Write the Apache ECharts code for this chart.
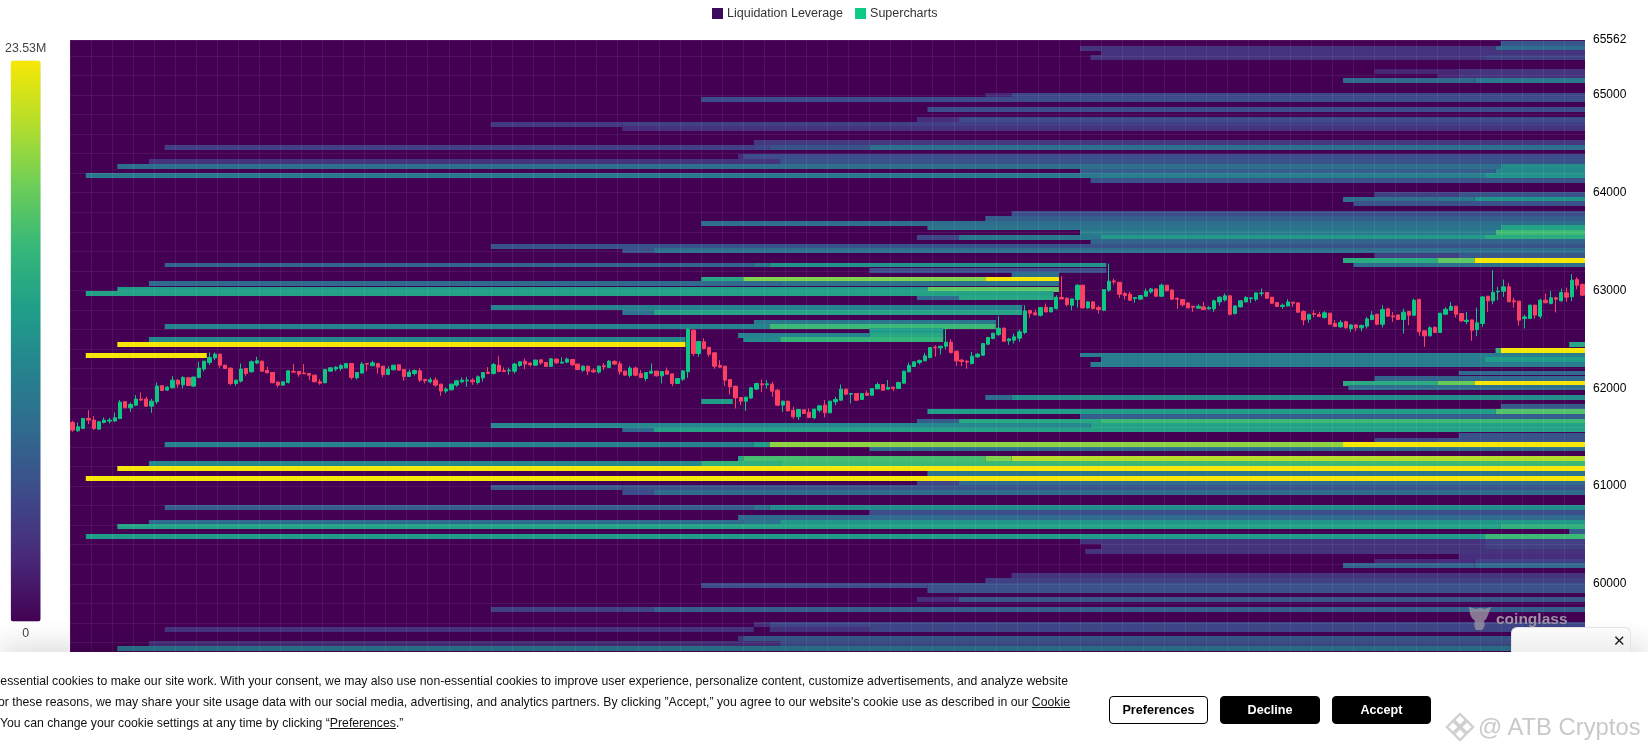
<!DOCTYPE html>
<html><head><meta charset="utf-8">
<script src="https://cdn.jsdelivr.net/npm/echarts@6/dist/echarts.min.js"></script>
<style>
html,body{margin:0;padding:0;width:1648px;height:751px;overflow:hidden;background:#fff;font-family:"Liberation Sans",Arial,sans-serif}
#c{position:absolute;left:0;top:0;width:1648px;height:751px}
.ov{position:absolute}
#banner{left:0;right:0;top:652px;bottom:0;background:#fff;box-shadow:0 -8px 26px rgba(0,0,0,.13)}
.ln{position:absolute;white-space:nowrap;font-size:12.25px;color:#111;line-height:20px}
.ln u{text-underline-offset:1px}
.btn{position:absolute;top:696px;height:28px;box-sizing:border-box;border-radius:4px;font-size:12.6px;font-weight:700;text-align:center;line-height:26px;border:1px solid #000}
</style></head><body>
<div id="c"></div>
<div class="ov" style="left:1468px;top:605px;width:24px;height:26px">
<svg width="24" height="26" viewBox="0 0 24 26"><path d="M1 2 L8 4 Q12 2 16 4 L23 2 L20 10 Q19 14 16 16 Q18 22 14 25 L8 25 Q5 20 7 16 Q3 13 2 9 Z" fill="#9a93a3" opacity=".8"/></svg></div>
<div class="ov" style="left:1496px;top:608px;font-size:15.5px;font-weight:700;color:#9a93a3;line-height:22px">coinglass</div>
<div class="ov" id="banner"></div>
<div class="ov" style="left:1511px;top:627px;width:120px;height:30px;background:linear-gradient(#fbfbfb,#ececec);border:1px solid #e4e4e4;border-bottom:0;border-radius:6px 6px 0 0;box-sizing:border-box"></div>
<div class="ov" style="left:1613px;top:633px;font-size:15px;line-height:15px;color:#222">✕</div>
<div class="ov" style="left:0;top:652px;width:1648px;height:99px;background:#fff"></div>
<div class="ln" style="right:580px;top:671px">We use essential cookies to make our site work. With your consent, we may also use non-essential cookies to improve user experience, personalize content, customize advertisements, and analyze website</div>
<div class="ln" style="right:578px;top:692px">For these reasons, we may share your site usage data with our social media, advertising, and analytics partners. By clicking ”Accept,” you agree to our website's cookie use as described in our <u>Cookie</u></div>
<div class="ln" style="left:0;top:713px">You can change your cookie settings at any time by clicking “<u>Preferences</u>.”</div>
<div class="btn" style="left:1109px;width:99px;background:#fff;color:#000">Preferences</div>
<div class="btn" style="left:1220px;width:100px;background:#000;color:#fff">Decline</div>
<div class="btn" style="left:1332px;width:99px;background:#000;color:#fff">Accept</div>
<div class="ov" style="left:1445px;top:712px;width:30px;height:30px">
<svg width="30" height="30" viewBox="0 0 30 30" fill="none" stroke="#d0d0d0" stroke-width="2.4"><path d="M15 2 L21 8 L15 14 L9 8 Z M15 16 L21 22 L15 28 L9 22 Z M2 15 L8 9 L14 15 L8 21 Z M16 15 L22 9 L28 15 L22 21 Z"/></svg></div>
<div class="ov" style="left:1478px;top:712px;font-size:23.8px;color:#c9c9c9;line-height:30px;white-space:nowrap">@ ATB Cryptos</div>
<script>
const TOTAL_SLOTS = 288;
const slotLabels = Array.from({length: TOTAL_SLOTS}, (_, i) => String(i));
const priceLabels = [60000, 61000, 62000, 63000, 64000, 65000, 65562];
const legendNames = ['Liquidation Leverage', 'Supercharts'];
const vmText = ['23.53M', '0'];
const maxLiq = 23.53, topPrice = 65562, bottomPrice = 59200, bucket = 49.8;
const viridis = ['#440154','#482878','#3e4989','#31688e','#26828e','#1f9e89','#35b779','#6ece58','#b5de2b','#f7e806'];

// liquidation bands: [price bucket counted down from the top, first slot, end slot, value in millions]
const bandsUpper = [
[0.7,272,288,6.5],[1.7,192,271,3.5],[1.7,271,288,8],[2.6,196,288,3.5],[3.6,194,269,3.5],[3.6,269,288,4.5],
[6.5,248,264,2.5],[6.5,264,288,3.5],[7.4,260,264,2.5],[7.4,264,288,3.5],[8.4,242,267,8],[8.4,267,288,9.5],
[11.3,174,179,2.5],[11.3,179,288,5],[12.3,120,288,5.5],[14.2,163,288,5.5],[16.3,161,169,3],[16.3,169,288,5.5],
[17.3,80,105,4],[17.3,105,288,4.5],[18.2,105,111,3],[18.2,111,288,3.5],[21.1,130,288,4],
[22,18,130,4.5],[22,130,133,5],[22,133,152,6],[22,152,288,8.5],[24,127,128,3],[24,128,288,5.5],
[24.9,15,135,3.5],[24.9,135,288,6],[25.9,9,272,8.5],[25.9,272,288,11.5],[26.9,192,271,7],[26.9,271,288,11],
[27.9,3,196,9.5],[27.9,196,269,10],[27.9,269,288,12],[28.8,194,288,6],
[31.8,248,264,4.5],[31.8,264,288,6],[32.7,242,260,8.5],[32.7,260,267,9.5],[32.7,267,288,12],[33.6,244,288,6],
[35.6,179,288,5.5],[36.6,174,288,7],[37.6,120,288,8.5],[38.5,163,272,9],[38.5,272,288,13.5],
[39.5,192,271,10],[39.5,271,288,16],[40.5,161,169,5],[40.5,169,196,9.5],[40.5,196,269,12.5],[40.5,269,288,14.5],
[41.4,194,288,7.5],[42.4,80,288,6],[43.3,105,111,6],[43.3,111,288,8.5]
];
const bandsMiddle = [
[44.2,248,264,4.5],[44.2,264,288,6.5],[45.2,242,260,14.5],[45.2,260,267,17.5],[45.2,267,288,23.5],
[46.2,18,130,7.5],[46.2,130,133,9.5],[46.2,133,197,12],[46.2,244,288,8.5],[47.3,152,197,5.5],[48.2,179,188,8.5],
[49.2,120,128,14],[49.2,128,174,19],[49.2,174,188,23.5],[50.1,15,135,8],[50.1,135,188,9],
[51.2,9,163,13],[51.2,163,188,17.5],[52.1,3,187,13.5],[53,161,169,8],[53,169,187,14],
[55,80,181,10.5],[56,105,111,9],[56,111,181,13.5],[58,130,176,9.5],[58.8,18,133,10.5],[58.8,133,176,16],
[59.7,152,166,13],[60.7,127,152,10.5],[60.7,152,166,14],[61.6,15,117,11],[61.6,128,135,11],[61.6,135,166,15.5],[62.6,285,288,14],
[62.6,9,117,23.5],[63.7,271,272,15],[63.7,272,288,23.5],[64.8,3,26,23.5],[64.7,192,288,10],[65.6,196,269,10],[65.6,269,288,13],[66.6,194,288,10],
[68.4,264,288,8],[69.5,248,264,7.5],[69.5,264,288,8],[70.5,242,260,14.5],[70.5,260,267,18],[70.5,267,288,23.5],[71.4,243,288,8.5],
[73.4,174,179,8],[73.4,179,288,11.5],[74.3,120,126,13],[75.3,272,288,6.5],[76.3,163,271,13],[76.3,271,288,17],[77.4,192,288,7],
[78.3,161,169,7],[78.3,169,196,14],[78.3,196,288,16],[79.2,80,194,11],[79.2,194,288,13.5],[80.1,105,111,8],[80.1,111,288,13.5]
];
const bandsLower = [
[81.2,264,288,6],[82.2,248,260,5],[82.2,260,288,6],[83.1,18,130,10.5],[83.1,130,133,13],[83.1,133,242,19.5],[83.1,242,288,23.5],
[84,152,288,8.5],[86,127,128,14],[86,128,174,16.5],[86,174,179,19],[86,179,288,21],
[87,15,120,11],[87,120,135,15],[87,135,288,16],[88,9,288,23.5],[89,163,288,9],[90,3,288,23.5],
[91,161,169,5],[91,169,288,8],[92,80,105,6.5],[92,105,288,6],[93,105,111,5.5],[93,111,288,8],
[96,18,130,7],[96,130,133,9],[96,133,288,11.5],[97,152,288,5.5],[98,127,288,8],
[99,15,128,8],[99,128,135,9],[99,135,288,12.5],[100,9,272,13.5],[100,272,288,15],[101,285,288,7],
[102,3,269,13],[102,269,288,16],[103,192,269,3.5],[103,269,288,4.5],[104,196,269,3.5],[104,269,288,4.5],[105,193,288,3.5],
[106,264,288,3],[107,248,260,2.5],[107,260,267,3],[107,267,288,4.5],[108,242,267,7.5],[108,267,288,8],
[110,179,288,3.5],[111,174,288,4.5],[112,120,163,5.5],[112,163,288,6],[113,163,288,6],
[115,161,169,3],[115,169,288,6.5],[117,80,105,4.5],[117,105,111,5],[117,111,288,7],
[120,130,133,3],[120,133,288,5],[121,18,130,3.5],[121,133,152,3.5],[121,152,288,5],
[123,127,128,4],[123,128,288,6.5],[124,15,135,3],[124,135,288,5.5],[125,9,288,9]
];

// candles: [open, close, low, high]
const candlesA = [
[61650,61572,61555,61667],[61565,61606,61555,61650],[61589,61691,61585,61695],[61691,61674,61633,61776],[61674,61589,61572,61715],[61582,61657,61575,61660],[61650,61674,61640,61701],[61664,61674,61640,61698],[61664,61698,61657,61752],[61691,61858,61684,61879],
[61862,61800,61795,61865],[61800,61834,61759,61855],[61827,61889,61817,61930],[61889,61879,61868,61957],[61889,61817,61810,61913],[61817,61868,61749,61892],[61862,62022,61838,62059],[62025,61977,61974,62032],[61981,62011,61974,62022],[62005,62083,61998,62124],
[62083,62042,62005,62090],[62035,62110,61998,62124],[62107,62029,62025,62110],[62022,62114,62011,62120],[62110,62206,62103,62271],[62196,62277,62172,62280],[62264,62315,62236,62366],[62311,62349,62288,62366],[62349,62236,62209,62355],[62236,62202,62198,62240],
[62206,62049,62032,62210],[62049,62083,62025,62087],[62073,62196,62059,62253],[62202,62151,62127,62209],[62168,62271,62161,62284],[62257,62281,62247,62322],[62277,62175,62168,62282],[62182,62158,62151,62219],[62161,62056,62052,62165],[62063,62032,62008,62069],
[62032,62066,62025,62073],[62059,62178,62049,62185],[62172,62165,62161,62247],[62172,62144,62117,62176],[62155,62148,62145,62247],[62151,62134,62083,62155],[62134,62066,62062,62138],[62066,62052,62035,62093],[62056,62192,62052,62199],[62175,62209,62168,62216],
[62196,62216,62175,62226],[62202,62233,62178,62247],[62209,62253,62205,62258],[62253,62110,62090,62258],[62107,62161,62090,62165],[62155,62247,62150,62267],[62253,62247,62175,62256],[62230,62260,62226,62281],[62253,62216,62151,62256],[62226,62141,62114,62230],
[62141,62196,62134,62226],[62189,62236,62185,62240],[62240,62185,62180,62244],[62192,62121,62076,62196],[62121,62165,62114,62192],[62151,62182,62131,62192],[62178,62083,62066,62206],[62090,62076,62049,62094],[62066,62086,62049,62110],[62083,62032,62015,62110],
[62042,61971,61923,62046],[61971,61991,61947,62008],[61984,62042,61980,62046]
];
const candlesB = [
[62032,62076,62015,62083],[62066,62083,62052,62110],[62076,62083,62015,62117],[62083,62066,62035,62103],[62059,62117,62039,62131],[62107,62161,62069,62165],[62165,62151,62144,62216],[62151,62243,62141,62260],[62236,62172,62165,62328],[62182,62172,62165,62212],
[62178,62185,62138,62212],[62175,62247,62151,62260],[62233,62270,62219,62277],[62277,62247,62195,62304],[62257,62240,62223,62267],[62236,62288,62232,62292],[62291,62260,62240,62295],[62264,62223,62219,62268],[62223,62301,62219,62308],[62298,62260,62247,62302],
[62257,62267,62253,62315],[62267,62298,62260,62315],[62294,62240,62226,62298],[62247,62192,62185,62251],[62185,62226,62168,62233],[62226,62175,62134,62230],[62185,62168,62155,62206],[62165,62226,62151,62233],[62230,62219,62185,62257],[62213,62277,62206,62288],
[62274,62247,62240,62288],[62250,62168,62138,62277],[62175,62134,62131,62182],[62131,62206,62110,62226],[62206,62134,62124,62223],
[62150,62110,62103,62185],[62100,62161,62072,62165],[62154,62175,62147,62253],[62175,62127,62120,62180],[62127,62171,62049,62175],[62178,62144,62140,62212],[62147,62049,62021,62151],[62049,62100,62045,62104],[62093,62178,62076,62185],[62168,62601,62106,62614],
[62594,62355,62328,62601],[62355,62478,62321,62485],[62475,62406,62400,62512],[62417,62348,62321,62427],[62362,62226,62199,62366],[62233,62216,62212,62287],[62226,62083,62025,62230],[62089,62014,61936,62093],[62021,61902,61793,62025],[61905,61868,61827,61909],
[61868,61909,61769,61912],[61899,62004,61895,62014],[61991,62049,61984,62055],[62045,62035,61963,62089],[62035,62045,61997,62083],[62042,61970,61912,62066],[61980,61827,61817,61991],[61827,61868,61759,61872],[61868,61769,61765,61872],[61776,61708,61687,61810],
[61708,61783,61674,61787],[61779,61742,61738,61783],[61755,61701,61697,61793],[61698,61786,61684,61790],[61776,61820,61752,61827],[61827,61749,61701,61878],[61749,61868,61745,61872],[61861,61885,61827,61912],[61878,61991,61874,62038],[61991,61940,61929,61997]
];
const candlesC = [
[61939,61946,61844,61950],[61946,61878,61874,61950],[61885,61946,61881,61950],[61950,61929,61925,61974],[61929,61997,61925,62001],[61994,62038,61990,62059],[62038,61980,61976,62042],[61991,62008,61987,62083],[62011,61997,61970,62015],[61997,62059,61993,62066],
[62052,62175,62049,62179],[62168,62233,62164,62263],[62222,62270,62218,62274],[62263,62284,62243,62294],[62280,62331,62276,62362],[62314,62417,62304,62421],[62420,62413,62321,62440],[62413,62430,62345,62434],[62430,62471,62400,62611],[62471,62365,62355,62502],
[62379,62280,62229,62383],[62287,62273,62226,62301],[62277,62267,62199,62287],[62253,62328,62246,62372],[62321,62348,62311,62359],[62338,62458,62331,62462],[62451,62519,62440,62526],[62509,62563,62502,62567],[62549,62614,62536,62737],[62614,62481,62477,62621],
[62485,62505,62444,62515],[62492,62526,62458,62560],[62512,62577,62475,62601],[62570,62791,62553,62849],[62795,62768,62720,62799],[62771,62751,62744,62805],
[62747,62825,62733,62830],[62829,62781,62777,62866],[62781,62825,62777,62832],[62815,62931,62805,62951],[62928,62914,62907,63146],[62921,62856,62836,62931],[62849,62914,62798,62918],[62907,63054,62825,63064],[63054,62822,62818,63058],[62822,62883,62812,62893],
[62883,62815,62805,62893],[62825,62805,62764,62846],[62798,63009,62788,63013],[63003,63095,62986,63275],[63098,63088,63060,63122],[63084,62962,62924,63088],[62969,62948,62907,62986],[62962,62900,62896,62986],[62917,62928,62876,62932],[62911,62948,62907,62952],
[62941,62992,62937,63020],[62986,63016,62969,63026],[63016,62941,62937,63020],[62941,63054,62937,63071],[63054,62996,62992,63058],[63006,62911,62907,63010],[62921,62911,62812,62925],[62907,62853,62836,62911],[62873,62822,62818,62877],[62839,62829,62781,62843]
];
const candlesD = [
[62819,62839,62812,62859],[62832,62805,62801,62883],[62812,62825,62805,62839],[62812,62894,62781,62907],[62883,62931,62846,62941],[62904,62945,62887,62969],[62945,62757,62744,62950],[62764,62842,62754,62846],[62832,62894,62828,62898],[62883,62928,62879,62941],
[62917,62924,62873,62928],[62911,62975,62890,62980],[62969,62975,62941,63020],[62979,62921,62914,62984],[62931,62870,62863,62935],[62876,62836,62832,62880],[62836,62849,62812,62866],[62842,62883,62836,62911],[62880,62870,62832,62884],[62873,62778,62774,62877],
[62785,62699,62645,62798],[62706,62754,62669,62764],[62764,62757,62727,62795],[62754,62733,62730,62781],[62723,62771,62713,62788],[62768,62655,62651,62772],[62662,62631,62627,62696],[62628,62672,62618,62696],[62679,62618,62611,62692],[62611,62648,62577,62655],
[62648,62618,62583,62651],[62618,62641,62583,62651],[62635,62709,62611,62730],[62703,62747,62696,62788],[62757,62655,62645,62761],[62655,62805,62621,62849],[62812,62737,62733,62819],[62740,62730,62679,62781],[62750,62703,62699,62754],[62703,62778,62560,62815],
[62785,62747,62645,62791],[62747,62900,62743,62917],[62907,62577,62536,62917],[62587,62536,62423,62591],[62536,62618,62532,62635],[62621,62570,62566,62635],[62570,62767,62566,62771],[62757,62808,62753,62829],[62798,62836,62791,62883],[62839,62757,62723,62843],
[62764,62689,62685,62768],[62682,62696,62655,62781],[62699,62594,62485,62703],[62600,62669,62532,62825],[62662,62934,62628,62941],[62941,62894,62781,62945],[62894,62982,62859,63207],[62986,62992,62900,63037],
[62993,63037,62935,63112],[63037,62884,62880,63078],[62894,62884,62823,62925],[62891,62696,62639,62895],[62713,62730,62611,62754],[62713,62850,62709,62854],[62850,62748,62713,62854],[62737,62901,62713,62915],[62901,62874,62870,62969],[62867,62925,62857,62993],
[62925,62911,62775,62935],[62894,62979,62884,63020],[62976,62932,62884,63030],[62935,63105,62891,63167],[63112,63054,63013,63136],[63061,62952,62945,63071]
];

const bands = bandsUpper.concat(bandsMiddle, bandsLower)
  .map(b => [b[1], b[2], topPrice - bucket * b[0], b[3]]);
const candles = candlesA.concat(candlesB, candlesC, candlesD);

const chart = echarts.init(document.getElementById('c'), null, {renderer: 'canvas'});
chart.setOption({
  animation: false,
  textStyle: {fontFamily: '"Liberation Sans", Arial, sans-serif'},
  legend: {
    left: 707, top: 2, itemWidth: 11, itemHeight: 11, itemGap: 12, icon: 'rect',
    textStyle: {fontSize: 12.5, color: '#333', padding: [0, 0, 0, -1]},
    data: [
      {name: legendNames[0], itemStyle: {color: '#3b0a5c', borderWidth: 0}},
      {name: legendNames[1], itemStyle: {color: '#0cca84', borderWidth: 0}}
    ]
  },
  visualMap: {
    type: 'continuous', seriesIndex: 0, dimension: 3, min: 0, max: maxLiq,
    left: -10, top: 27.5, itemWidth: 30, itemHeight: 561, text: vmText, textGap: 6,
    calculable: false, hoverLink: false, realtime: false,
    textStyle: {fontSize: 12.4, color: '#444'},
    inRange: {color: viridis}
  },
  grid: {left: 70, right: 63, top: 40, height: 622, backgroundColor: '#440154', show: true, borderWidth: 0},
  xAxis: {
    type: 'category', data: slotLabels, boundaryGap: true, z: 2,
    axisLine: {show: false}, axisTick: {show: false}, axisLabel: {show: false},
    splitLine: {show: true, interval: 3, lineStyle: {color: 'rgba(255,255,255,0.065)', width: 1}}
  },
  yAxis: {
    type: 'value', position: 'right', min: bottomPrice, max: topPrice, interval: 200, z: 2,
    axisLine: {show: false}, axisTick: {show: false},
    axisLabel: {customValues: priceLabels, fontSize: 12, color: '#000', margin: 8, padding: [3, 0, 0, 0], formatter: v => String(v)},
    splitLine: {show: true, lineStyle: {color: 'rgba(255,255,255,0.065)', width: 1}}
  },
  series: [
    {
      name: legendNames[0], type: 'custom', z: 1, clip: true, silent: true,
      encode: {x: [0, 1], y: 2},
      data: bands,
      itemStyle: {color: '#3b0a5c'},
      renderItem: function (params, api) {
        const bw = api.size([1, 0])[0];
        const x0 = api.coord([api.value(0), api.value(2)])[0] - bw / 2;
        const x1 = api.coord([api.value(1) - 1, api.value(2)])[0] + bw / 2;
        const y0 = Math.round(api.coord([0, api.value(2) + bucket / 2])[1]);
        const y1 = Math.round(api.coord([0, api.value(2) - bucket / 2])[1]);
        return {type: 'rect', shape: {x: x0, y: y0, width: x1 - x0, height: y1 - y0}, style: {fill: api.visual('color')}};
      }
    },
    {
      name: legendNames[1], type: 'candlestick', z: 3, silent: true, barWidth: 3.8,
      data: candles,
      itemStyle: {color: '#0cc784', color0: '#fb4163', borderColor: '#0cc784', borderColor0: '#fb4163', borderWidth: 1}
    }
  ]
});
</script>
</body></html>
